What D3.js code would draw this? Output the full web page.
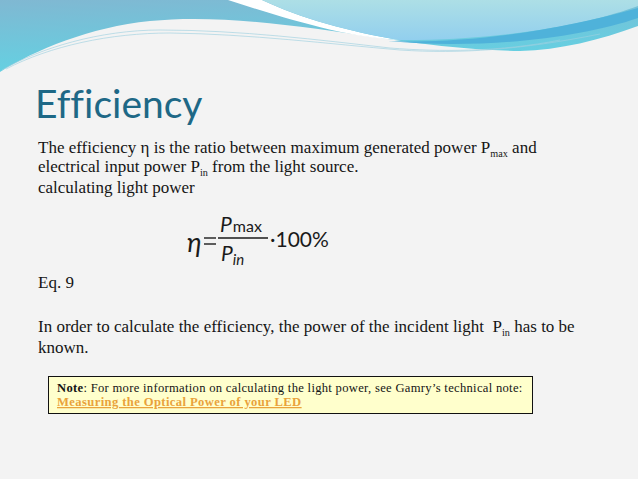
<!DOCTYPE html>
<html>
<head>
<meta charset="utf-8">
<script src="https://cdn.jsdelivr.net/npm/d3@7"></script>
<style>
  html, body { margin: 0; padding: 0; background: #f3f3f3; }
  svg { display: block; }
  text { font-variant-ligatures: none; }
</style>
</head>
<body>
<svg id="slide" width="638" height="479"></svg>
<script>
// slide content
var titleText = 'Efficiency';

// each line is a list of [text, kind] where kind is '' or 'sub'
var introLines = [
  [['The efficiency \u03b7 is the ratio between maximum generated power P', ''], ['max', 'sub'], [' and', '']],
  [['electrical input power P', ''], ['in', 'sub'], [' from the light source.', '']],
  [['calculating light power', '']]
];
var eqLabel = 'Eq. 9';
var outroLines = [
  [['In order to calculate the efficiency, the power of the incident light  P', ''], ['in', 'sub'], [' has to be', '']],
  [['known.', '']]
];
var formulaParts = { lhs: '\u03b7', num: ['P', 'max'], den: ['P', 'in'], factor: '\u00b7100%' };
var noteLead = 'Note';
var noteText = ': For more information on calculating the light power, see Gamry\u2019s technical note:';
var noteLink = 'Measuring the Optical Power of your LED';

var W = 638, H = 479;
var svg = d3.select('#slide');
var defs = svg.append('defs');

// background
svg.append('rect').attr('width', W).attr('height', H).attr('fill', '#f3f3f3');

// header waves
var gMain = defs.append('linearGradient').attr('id', 'gMain')
  .attr('x1', 0).attr('y1', 0).attr('x2', 0.3).attr('y2', 1);
gMain.append('stop').attr('offset', 0).attr('stop-color', '#80b8d2');
gMain.append('stop').attr('offset', 1).attr('stop-color', '#62d2e3');

var gLight = defs.append('linearGradient').attr('id', 'gLight')
  .attr('x1', 0).attr('y1', 0).attr('x2', 0).attr('y2', 1);
gLight.append('stop').attr('offset', 0).attr('stop-color', '#addfe6');
gLight.append('stop').attr('offset', 1).attr('stop-color', '#92cfee');

var header = svg.append('g');
header.append('path')
  .attr('fill', 'url(#gMain)')
  .attr('d', 'M0,0 L638,0 L638,26 C600,40 560,50 520,51 C470,50 420,44 380,38 C300,26 220,14 150,21 C90,27 35,50 0,72 Z');

// white swoosh + light region top right
header.append('path')
  .attr('fill', '#ffffff')
  .attr('d', 'M228,0 L262,0 C300,18 350,32 400,40 C350,38 290,20 228,0 Z');
header.append('path')
  .attr('fill', 'url(#gLight)')
  .attr('d', 'M262,0 L638,0 L638,6 C600,20 520,40 400,40 C350,32 300,18 262,0 Z');

// darker blue band
header.append('path')
  .attr('fill', '#4fb2da')
  .attr('d', 'M388,41 C470,44 560,30 638,8 L638,18 C580,38 480,50 388,41 Z');

// thin lines under the curve
var thin = [
  'M2,70 C40,48 100,30 160,30 C240,30 320,40 390,48 C440,52 500,52 560,40',
  'M6,69 C50,46 110,33 170,33 C250,34 330,44 400,50 C460,54 520,50 600,34'
];
header.selectAll('path.thin').data(thin).enter().append('path')
  .attr('class', 'thin')
  .attr('d', function(d) { return d; })
  .attr('fill', 'none')
  .attr('stroke', '#9ecfe0')
  .attr('stroke-width', 0.8)
  .attr('opacity', 0.8);

// title
svg.append('text')
  .attr('x', 35).attr('y', 118)
  .attr('font-family', 'Lato, sans-serif')
  .attr('font-size', 39)
  .attr('fill', '#1e6886')
  .text(titleText);

var bodyFont = '"Liberation Serif", serif';

function drawLine(sel, segs, x, y, size) {
  var t = sel.append('text')
    .attr('x', x).attr('y', y)
    .attr('font-family', bodyFont)
    .attr('font-size', size)
    .attr('fill', '#151515')
    .attr('xml:space', 'preserve');
  segs.forEach(function(s) {
    var sp = t.append('tspan').text(s[0]);
    if (s[1] === 'sub') {
      sp.attr('font-size', size * 0.6).attr('dy', 4);
    } else if (t.selectAll('tspan').size() > 1) {
      sp.attr('dy', -4);
    }
  });
  return t;
}

var introY = [153, 172, 193];
introLines.forEach(function(l, i) { drawLine(svg, l, 38, introY[i], 17); });

// formula
var fx = 187, fy = 238;
var eq = svg.append('g').attr('font-family', 'Lato, sans-serif').attr('fill', '#1a1a1a');
eq.append('text').attr('x', fx).attr('y', fy + 14).attr('font-size', 27).attr('font-style', 'italic')
  .text(formulaParts.lhs);
// equals sign drawn as two strokes so it stays clear of the fraction
eq.selectAll('line.eqs').data([-3, 3]).enter().append('line')
  .attr('class', 'eqs')
  .attr('x1', fx + 17).attr('x2', fx + 29)
  .attr('y1', function(d) { return fy + 3 + d; }).attr('y2', function(d) { return fy + 3 + d; })
  .attr('stroke', '#1a1a1a').attr('stroke-width', 1.4);
eq.append('line').attr('x1', fx + 31).attr('x2', fx + 81).attr('y1', fy).attr('y2', fy)
  .attr('stroke', '#1a1a1a').attr('stroke-width', 1.3);
var num = eq.append('text').attr('x', fx + 33).attr('y', fy - 6).attr('font-size', 21);
num.append('tspan').attr('font-style', 'italic').text(formulaParts.num[0]);
num.append('tspan').attr('font-size', 16).attr('dx', 1).text(formulaParts.num[1]);
var den = eq.append('text').attr('x', fx + 34).attr('y', fy + 23).attr('font-size', 21);
den.append('tspan').attr('font-style', 'italic').text(formulaParts.den[0]);
den.append('tspan').attr('font-size', 15).attr('font-style', 'italic').attr('dy', 4).text(formulaParts.den[1]);
eq.append('text').attr('x', fx + 83).attr('y', fy + 9).attr('font-size', 21).text(formulaParts.factor);

// eq label
svg.append('text').attr('x', 38).attr('y', 288)
  .attr('font-family', bodyFont).attr('font-size', 17).attr('fill', '#151515')
  .text(eqLabel);

var outroY = [332, 353];
outroLines.forEach(function(l, i) { drawLine(svg, l, 38, outroY[i], 17); });

// note box
var box = svg.append('g');
box.append('rect')
  .attr('x', 48.5).attr('y', 376.5).attr('width', 484).attr('height', 37)
  .attr('fill', '#ffffcc').attr('stroke', '#111').attr('stroke-width', 1);
var nt = box.append('text').attr('x', 57).attr('y', 392)
  .attr('font-family', bodyFont).attr('font-size', 12.6).attr('fill', '#151515')
  .attr('letter-spacing', 0.3);
nt.append('tspan').attr('font-weight', 'bold').text(noteLead);
nt.append('tspan').text(noteText);
box.append('text').attr('x', 57).attr('y', 406)
  .attr('font-family', bodyFont).attr('font-size', 12.6).attr('font-weight', 'bold')
  .attr('fill', '#e9a23b').attr('text-decoration', 'underline').attr('letter-spacing', 0.4)
  .text(noteLink);
</script>
</body>
</html>
